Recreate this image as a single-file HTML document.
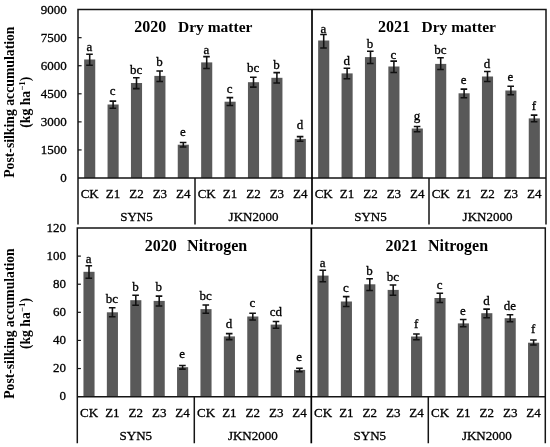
<!DOCTYPE html>
<html lang="en"><head><meta charset="utf-8"><title>Post-silking accumulation</title>
<style>html,body{margin:0;padding:0;background:#fff}svg{display:block}text{font-family:"Liberation Serif", "Times New Roman", serif;fill:#000;stroke:#000;stroke-width:0.3px}.t{font-size:13px}.b{font-size:16px;font-weight:bold;stroke:none}.y{font-size:13.8px;font-weight:bold;stroke:none}</style></head><body>
<svg width="550" height="447" viewBox="0 0 550 447">
<rect width="550" height="447" fill="#fff"/>
<rect x="84.15" y="59.50" width="11.1" height="118.50" fill="#595959"/>
<path d="M89.70 54.20V65.30M86.20 54.20h6.6M86.20 65.30h6.6" stroke="#111" stroke-width="1.55" fill="none"/>
<text class="t" x="89.30" y="51.00" text-anchor="middle">a</text>
<rect x="107.55" y="104.50" width="11.1" height="73.50" fill="#595959"/>
<path d="M113.10 101.10V108.30M109.60 101.10h6.6M109.60 108.30h6.6" stroke="#111" stroke-width="1.55" fill="none"/>
<text class="t" x="112.70" y="95.20" text-anchor="middle">c</text>
<rect x="130.95" y="83.00" width="11.1" height="95.00" fill="#595959"/>
<path d="M136.50 77.70V88.60M133.00 77.70h6.6M133.00 88.60h6.6" stroke="#111" stroke-width="1.55" fill="none"/>
<text class="t" x="136.10" y="74.00" text-anchor="middle">bc</text>
<rect x="154.35" y="75.90" width="11.1" height="102.10" fill="#595959"/>
<path d="M159.90 70.90V81.50M156.40 70.90h6.6M156.40 81.50h6.6" stroke="#111" stroke-width="1.55" fill="none"/>
<text class="t" x="159.50" y="65.70" text-anchor="middle">b</text>
<rect x="177.75" y="144.70" width="11.1" height="33.30" fill="#595959"/>
<path d="M183.30 142.40V147.00M179.80 142.40h6.6M179.80 147.00h6.6" stroke="#111" stroke-width="1.55" fill="none"/>
<text class="t" x="182.90" y="136.00" text-anchor="middle">e</text>
<rect x="201.15" y="62.40" width="11.1" height="115.60" fill="#595959"/>
<path d="M206.70 56.60V68.50M203.20 56.60h6.6M203.20 68.50h6.6" stroke="#111" stroke-width="1.55" fill="none"/>
<text class="t" x="206.30" y="53.60" text-anchor="middle">a</text>
<rect x="224.55" y="101.70" width="11.1" height="76.30" fill="#595959"/>
<path d="M230.10 97.60V105.50M226.60 97.60h6.6M226.60 105.50h6.6" stroke="#111" stroke-width="1.55" fill="none"/>
<text class="t" x="229.70" y="92.60" text-anchor="middle">c</text>
<rect x="247.95" y="82.20" width="11.1" height="95.80" fill="#595959"/>
<path d="M253.50 77.20V87.10M250.00 77.20h6.6M250.00 87.10h6.6" stroke="#111" stroke-width="1.55" fill="none"/>
<text class="t" x="253.10" y="72.30" text-anchor="middle">bc</text>
<rect x="271.35" y="77.80" width="11.1" height="100.20" fill="#595959"/>
<path d="M276.90 72.60V83.00M273.40 72.60h6.6M273.40 83.00h6.6" stroke="#111" stroke-width="1.55" fill="none"/>
<text class="t" x="276.50" y="69.10" text-anchor="middle">b</text>
<rect x="294.75" y="138.90" width="11.1" height="39.10" fill="#595959"/>
<path d="M300.30 136.60V141.20M296.80 136.60h6.6M296.80 141.20h6.6" stroke="#111" stroke-width="1.55" fill="none"/>
<text class="t" x="299.90" y="128.70" text-anchor="middle">d</text>
<rect x="318.15" y="40.50" width="11.1" height="137.50" fill="#595959"/>
<path d="M323.70 34.40V47.90M320.20 34.40h6.6M320.20 47.90h6.6" stroke="#111" stroke-width="1.55" fill="none"/>
<text class="t" x="323.30" y="32.80" text-anchor="middle">a</text>
<rect x="341.55" y="73.40" width="11.1" height="104.60" fill="#595959"/>
<path d="M347.10 68.20V78.80M343.60 68.20h6.6M343.60 78.80h6.6" stroke="#111" stroke-width="1.55" fill="none"/>
<text class="t" x="346.70" y="65.10" text-anchor="middle">d</text>
<rect x="364.95" y="57.10" width="11.1" height="120.90" fill="#595959"/>
<path d="M370.50 51.20V63.50M367.00 51.20h6.6M367.00 63.50h6.6" stroke="#111" stroke-width="1.55" fill="none"/>
<text class="t" x="370.10" y="48.10" text-anchor="middle">b</text>
<rect x="388.35" y="66.50" width="11.1" height="111.50" fill="#595959"/>
<path d="M393.90 61.10V72.40M390.40 61.10h6.6M390.40 72.40h6.6" stroke="#111" stroke-width="1.55" fill="none"/>
<text class="t" x="393.50" y="58.70" text-anchor="middle">c</text>
<rect x="411.75" y="128.50" width="11.1" height="49.50" fill="#595959"/>
<path d="M417.30 126.40V131.80M413.80 126.40h6.6M413.80 131.80h6.6" stroke="#111" stroke-width="1.55" fill="none"/>
<text class="t" x="416.90" y="119.60" text-anchor="middle">g</text>
<rect x="435.15" y="63.90" width="11.1" height="114.10" fill="#595959"/>
<path d="M440.70 57.80V69.50M437.20 57.80h6.6M437.20 69.50h6.6" stroke="#111" stroke-width="1.55" fill="none"/>
<text class="t" x="440.30" y="53.60" text-anchor="middle">bc</text>
<rect x="458.55" y="93.30" width="11.1" height="84.70" fill="#595959"/>
<path d="M464.10 89.10V97.80M460.60 89.10h6.6M460.60 97.80h6.6" stroke="#111" stroke-width="1.55" fill="none"/>
<text class="t" x="463.70" y="84.30" text-anchor="middle">e</text>
<rect x="481.95" y="76.50" width="11.1" height="101.50" fill="#595959"/>
<path d="M487.50 71.50V81.50M484.00 71.50h6.6M484.00 81.50h6.6" stroke="#111" stroke-width="1.55" fill="none"/>
<text class="t" x="487.10" y="67.60" text-anchor="middle">d</text>
<rect x="505.35" y="90.50" width="11.1" height="87.50" fill="#595959"/>
<path d="M510.90 86.30V94.70M507.40 86.30h6.6M507.40 94.70h6.6" stroke="#111" stroke-width="1.55" fill="none"/>
<text class="t" x="510.50" y="80.70" text-anchor="middle">e</text>
<rect x="528.75" y="118.40" width="11.1" height="59.60" fill="#595959"/>
<path d="M534.30 115.10V121.80M530.80 115.10h6.6M530.80 121.80h6.6" stroke="#111" stroke-width="1.55" fill="none"/>
<text class="t" x="533.90" y="109.50" text-anchor="middle">f</text>
<path d="M78.0 224.5V9.6H546.0V224.5M78.0 178.0H546.0M195.0 178.0V224.5M429.0 178.0V224.5" stroke="#151515" stroke-width="1.5" fill="none"/>
<path d="M312.0 9.6V224.5" stroke="#000" stroke-width="1.7" fill="none"/>
<text class="t" x="66.80" y="182.30" text-anchor="end">0</text>
<path d="M78.0 149.93h3.6" stroke="#151515" stroke-width="1.2"/>
<text class="t" x="66.80" y="154.23" text-anchor="end">1500</text>
<path d="M78.0 121.87h3.6" stroke="#151515" stroke-width="1.2"/>
<text class="t" x="66.80" y="126.17" text-anchor="end">3000</text>
<path d="M78.0 93.80h3.6" stroke="#151515" stroke-width="1.2"/>
<text class="t" x="66.80" y="98.10" text-anchor="end">4500</text>
<path d="M78.0 65.73h3.6" stroke="#151515" stroke-width="1.2"/>
<text class="t" x="66.80" y="70.03" text-anchor="end">6000</text>
<path d="M78.0 37.67h3.6" stroke="#151515" stroke-width="1.2"/>
<text class="t" x="66.80" y="41.97" text-anchor="end">7500</text>
<text class="t" x="66.80" y="13.90" text-anchor="end">9000</text>
<text class="t" x="89.70" y="197.50" text-anchor="middle">CK</text>
<text class="t" x="113.10" y="197.50" text-anchor="middle">Z1</text>
<text class="t" x="136.50" y="197.50" text-anchor="middle">Z2</text>
<text class="t" x="159.90" y="197.50" text-anchor="middle">Z3</text>
<text class="t" x="183.30" y="197.50" text-anchor="middle">Z4</text>
<text class="t" x="136.50" y="221.00" text-anchor="middle">SYN5</text>
<text class="t" x="206.70" y="197.50" text-anchor="middle">CK</text>
<text class="t" x="230.10" y="197.50" text-anchor="middle">Z1</text>
<text class="t" x="253.50" y="197.50" text-anchor="middle">Z2</text>
<text class="t" x="276.90" y="197.50" text-anchor="middle">Z3</text>
<text class="t" x="300.30" y="197.50" text-anchor="middle">Z4</text>
<text class="t" x="253.50" y="221.00" text-anchor="middle">JKN2000</text>
<text class="t" x="323.70" y="197.50" text-anchor="middle">CK</text>
<text class="t" x="347.10" y="197.50" text-anchor="middle">Z1</text>
<text class="t" x="370.50" y="197.50" text-anchor="middle">Z2</text>
<text class="t" x="393.90" y="197.50" text-anchor="middle">Z3</text>
<text class="t" x="417.30" y="197.50" text-anchor="middle">Z4</text>
<text class="t" x="370.50" y="221.00" text-anchor="middle">SYN5</text>
<text class="t" x="440.70" y="197.50" text-anchor="middle">CK</text>
<text class="t" x="464.10" y="197.50" text-anchor="middle">Z1</text>
<text class="t" x="487.50" y="197.50" text-anchor="middle">Z2</text>
<text class="t" x="510.90" y="197.50" text-anchor="middle">Z3</text>
<text class="t" x="534.30" y="197.50" text-anchor="middle">Z4</text>
<text class="t" x="487.50" y="221.00" text-anchor="middle">JKN2000</text>
<text class="b" x="134.30" y="31.90">2020</text>
<text class="b" style="font-size:15.5px" x="178.00" y="31.90">Dry matter</text>
<text class="b" x="377.90" y="31.90">2021</text>
<text class="b" style="font-size:15.5px" x="421.50" y="31.90">Dry matter</text>
<text class="y" style="font-size:13.72px" transform="translate(13.5 102.15) rotate(-90)" text-anchor="middle">Post-silking accumulation</text>
<text class="y" style="font-size:13.72px" transform="translate(30.2 102.15) rotate(-90)" text-anchor="middle">(kg ha<tspan font-size="9px" dy="-5">−1</tspan><tspan dy="5">)</tspan></text>
<rect x="83.45" y="271.80" width="11.1" height="124.85" fill="#595959"/>
<path d="M89.00 265.70V278.20M85.50 265.70h6.6M85.50 278.20h6.6" stroke="#111" stroke-width="1.55" fill="none"/>
<text class="t" x="88.60" y="262.70" text-anchor="middle">a</text>
<rect x="106.85" y="312.30" width="11.1" height="84.35" fill="#595959"/>
<path d="M112.40 307.70V316.80M108.90 307.70h6.6M108.90 316.80h6.6" stroke="#111" stroke-width="1.55" fill="none"/>
<text class="t" x="112.00" y="303.00" text-anchor="middle">bc</text>
<rect x="130.25" y="300.20" width="11.1" height="96.45" fill="#595959"/>
<path d="M135.80 295.20V305.20M132.30 295.20h6.6M132.30 305.20h6.6" stroke="#111" stroke-width="1.55" fill="none"/>
<text class="t" x="135.40" y="290.50" text-anchor="middle">b</text>
<rect x="153.65" y="300.90" width="11.1" height="95.75" fill="#595959"/>
<path d="M159.20 296.10V305.90M155.70 296.10h6.6M155.70 305.90h6.6" stroke="#111" stroke-width="1.55" fill="none"/>
<text class="t" x="158.80" y="291.10" text-anchor="middle">b</text>
<rect x="177.05" y="367.20" width="11.1" height="29.45" fill="#595959"/>
<path d="M182.60 365.50V369.10M179.10 365.50h6.6M179.10 369.10h6.6" stroke="#111" stroke-width="1.55" fill="none"/>
<text class="t" x="182.20" y="358.20" text-anchor="middle">e</text>
<rect x="200.45" y="309.10" width="11.1" height="87.55" fill="#595959"/>
<path d="M206.00 305.00V313.20M202.50 305.00h6.6M202.50 313.20h6.6" stroke="#111" stroke-width="1.55" fill="none"/>
<text class="t" x="205.60" y="300.40" text-anchor="middle">bc</text>
<rect x="223.85" y="336.40" width="11.1" height="60.25" fill="#595959"/>
<path d="M229.40 333.60V339.60M225.90 333.60h6.6M225.90 339.60h6.6" stroke="#111" stroke-width="1.55" fill="none"/>
<text class="t" x="229.00" y="327.60" text-anchor="middle">d</text>
<rect x="247.25" y="316.50" width="11.1" height="80.15" fill="#595959"/>
<path d="M252.80 313.20V320.00M249.30 313.20h6.6M249.30 320.00h6.6" stroke="#111" stroke-width="1.55" fill="none"/>
<text class="t" x="252.40" y="306.90" text-anchor="middle">c</text>
<rect x="270.65" y="324.60" width="11.1" height="72.05" fill="#595959"/>
<path d="M276.20 321.40V328.20M272.70 321.40h6.6M272.70 328.20h6.6" stroke="#111" stroke-width="1.55" fill="none"/>
<text class="t" x="275.80" y="315.90" text-anchor="middle">cd</text>
<rect x="294.05" y="369.90" width="11.1" height="26.75" fill="#595959"/>
<path d="M299.60 368.30V371.80M296.10 368.30h6.6M296.10 371.80h6.6" stroke="#111" stroke-width="1.55" fill="none"/>
<text class="t" x="299.20" y="360.80" text-anchor="middle">e</text>
<rect x="317.45" y="275.60" width="11.1" height="121.05" fill="#595959"/>
<path d="M323.00 270.20V281.80M319.50 270.20h6.6M319.50 281.80h6.6" stroke="#111" stroke-width="1.55" fill="none"/>
<text class="t" x="322.60" y="267.00" text-anchor="middle">a</text>
<rect x="340.85" y="301.50" width="11.1" height="95.15" fill="#595959"/>
<path d="M346.40 296.60V306.40M342.90 296.60h6.6M342.90 306.40h6.6" stroke="#111" stroke-width="1.55" fill="none"/>
<text class="t" x="346.00" y="291.60" text-anchor="middle">c</text>
<rect x="364.25" y="284.30" width="11.1" height="112.35" fill="#595959"/>
<path d="M369.80 278.80V290.40M366.30 278.80h6.6M366.30 290.40h6.6" stroke="#111" stroke-width="1.55" fill="none"/>
<text class="t" x="369.40" y="275.10" text-anchor="middle">b</text>
<rect x="387.65" y="289.90" width="11.1" height="106.75" fill="#595959"/>
<path d="M393.20 285.00V295.30M389.70 285.00h6.6M389.70 295.30h6.6" stroke="#111" stroke-width="1.55" fill="none"/>
<text class="t" x="392.80" y="281.30" text-anchor="middle">bc</text>
<rect x="411.05" y="336.50" width="11.1" height="60.15" fill="#595959"/>
<path d="M416.60 334.00V339.70M413.10 334.00h6.6M413.10 339.70h6.6" stroke="#111" stroke-width="1.55" fill="none"/>
<text class="t" x="416.20" y="328.10" text-anchor="middle">f</text>
<rect x="434.45" y="298.00" width="11.1" height="98.65" fill="#595959"/>
<path d="M440.00 293.20V302.50M436.50 293.20h6.6M436.50 302.50h6.6" stroke="#111" stroke-width="1.55" fill="none"/>
<text class="t" x="439.60" y="288.60" text-anchor="middle">c</text>
<rect x="457.85" y="323.40" width="11.1" height="73.25" fill="#595959"/>
<path d="M463.40 319.50V326.80M459.90 319.50h6.6M459.90 326.80h6.6" stroke="#111" stroke-width="1.55" fill="none"/>
<text class="t" x="463.00" y="315.00" text-anchor="middle">e</text>
<rect x="481.25" y="313.20" width="11.1" height="83.45" fill="#595959"/>
<path d="M486.80 309.10V317.70M483.30 309.10h6.6M483.30 317.70h6.6" stroke="#111" stroke-width="1.55" fill="none"/>
<text class="t" x="486.40" y="304.80" text-anchor="middle">d</text>
<rect x="504.65" y="318.20" width="11.1" height="78.45" fill="#595959"/>
<path d="M510.20 314.80V321.80M506.70 314.80h6.6M506.70 321.80h6.6" stroke="#111" stroke-width="1.55" fill="none"/>
<text class="t" x="509.80" y="309.80" text-anchor="middle">de</text>
<rect x="528.05" y="342.70" width="11.1" height="53.95" fill="#595959"/>
<path d="M533.60 340.00V345.00M530.10 340.00h6.6M530.10 345.00h6.6" stroke="#111" stroke-width="1.55" fill="none"/>
<text class="t" x="533.20" y="333.20" text-anchor="middle">f</text>
<path d="M77.3 443.3V228.0H545.3V443.3M77.3 396.65H545.3M194.3 396.65V443.3M428.3 396.65V443.3" stroke="#151515" stroke-width="1.5" fill="none"/>
<path d="M311.3 228.0V443.3" stroke="#000" stroke-width="1.7" fill="none"/>
<text class="t" x="66.10" y="400.45" text-anchor="end">0</text>
<path d="M77.3 368.54h3.6" stroke="#151515" stroke-width="1.2"/>
<text class="t" x="66.10" y="372.34" text-anchor="end">20</text>
<path d="M77.3 340.43h3.6" stroke="#151515" stroke-width="1.2"/>
<text class="t" x="66.10" y="344.23" text-anchor="end">40</text>
<path d="M77.3 312.32h3.6" stroke="#151515" stroke-width="1.2"/>
<text class="t" x="66.10" y="316.12" text-anchor="end">60</text>
<path d="M77.3 284.22h3.6" stroke="#151515" stroke-width="1.2"/>
<text class="t" x="66.10" y="288.02" text-anchor="end">80</text>
<path d="M77.3 256.11h3.6" stroke="#151515" stroke-width="1.2"/>
<text class="t" x="66.10" y="259.91" text-anchor="end">100</text>
<text class="t" x="66.10" y="231.80" text-anchor="end">120</text>
<text class="t" x="89.00" y="416.75" text-anchor="middle">CK</text>
<text class="t" x="112.40" y="416.75" text-anchor="middle">Z1</text>
<text class="t" x="135.80" y="416.75" text-anchor="middle">Z2</text>
<text class="t" x="159.20" y="416.75" text-anchor="middle">Z3</text>
<text class="t" x="182.60" y="416.75" text-anchor="middle">Z4</text>
<text class="t" x="135.80" y="439.80" text-anchor="middle">SYN5</text>
<text class="t" x="206.00" y="416.75" text-anchor="middle">CK</text>
<text class="t" x="229.40" y="416.75" text-anchor="middle">Z1</text>
<text class="t" x="252.80" y="416.75" text-anchor="middle">Z2</text>
<text class="t" x="276.20" y="416.75" text-anchor="middle">Z3</text>
<text class="t" x="299.60" y="416.75" text-anchor="middle">Z4</text>
<text class="t" x="252.80" y="439.80" text-anchor="middle">JKN2000</text>
<text class="t" x="323.00" y="416.75" text-anchor="middle">CK</text>
<text class="t" x="346.40" y="416.75" text-anchor="middle">Z1</text>
<text class="t" x="369.80" y="416.75" text-anchor="middle">Z2</text>
<text class="t" x="393.20" y="416.75" text-anchor="middle">Z3</text>
<text class="t" x="416.60" y="416.75" text-anchor="middle">Z4</text>
<text class="t" x="369.80" y="439.80" text-anchor="middle">SYN5</text>
<text class="t" x="440.00" y="416.75" text-anchor="middle">CK</text>
<text class="t" x="463.40" y="416.75" text-anchor="middle">Z1</text>
<text class="t" x="486.80" y="416.75" text-anchor="middle">Z2</text>
<text class="t" x="510.20" y="416.75" text-anchor="middle">Z3</text>
<text class="t" x="533.60" y="416.75" text-anchor="middle">Z4</text>
<text class="t" x="486.80" y="439.80" text-anchor="middle">JKN2000</text>
<text class="b" x="144.80" y="251.30">2020</text>
<text class="b" style="font-size:16px" x="187.10" y="251.30">Nitrogen</text>
<text class="b" x="385.50" y="251.30">2021</text>
<text class="b" style="font-size:16px" x="427.90" y="251.30">Nitrogen</text>
<text class="y" style="font-size:13.65px" transform="translate(13.5 323.55) rotate(-90)" text-anchor="middle">Post-silking accumulation</text>
<text class="y" style="font-size:13.65px" transform="translate(30.2 323.55) rotate(-90)" text-anchor="middle">(kg ha<tspan font-size="9px" dy="-5">−1</tspan><tspan dy="5">)</tspan></text>
</svg></body></html>
